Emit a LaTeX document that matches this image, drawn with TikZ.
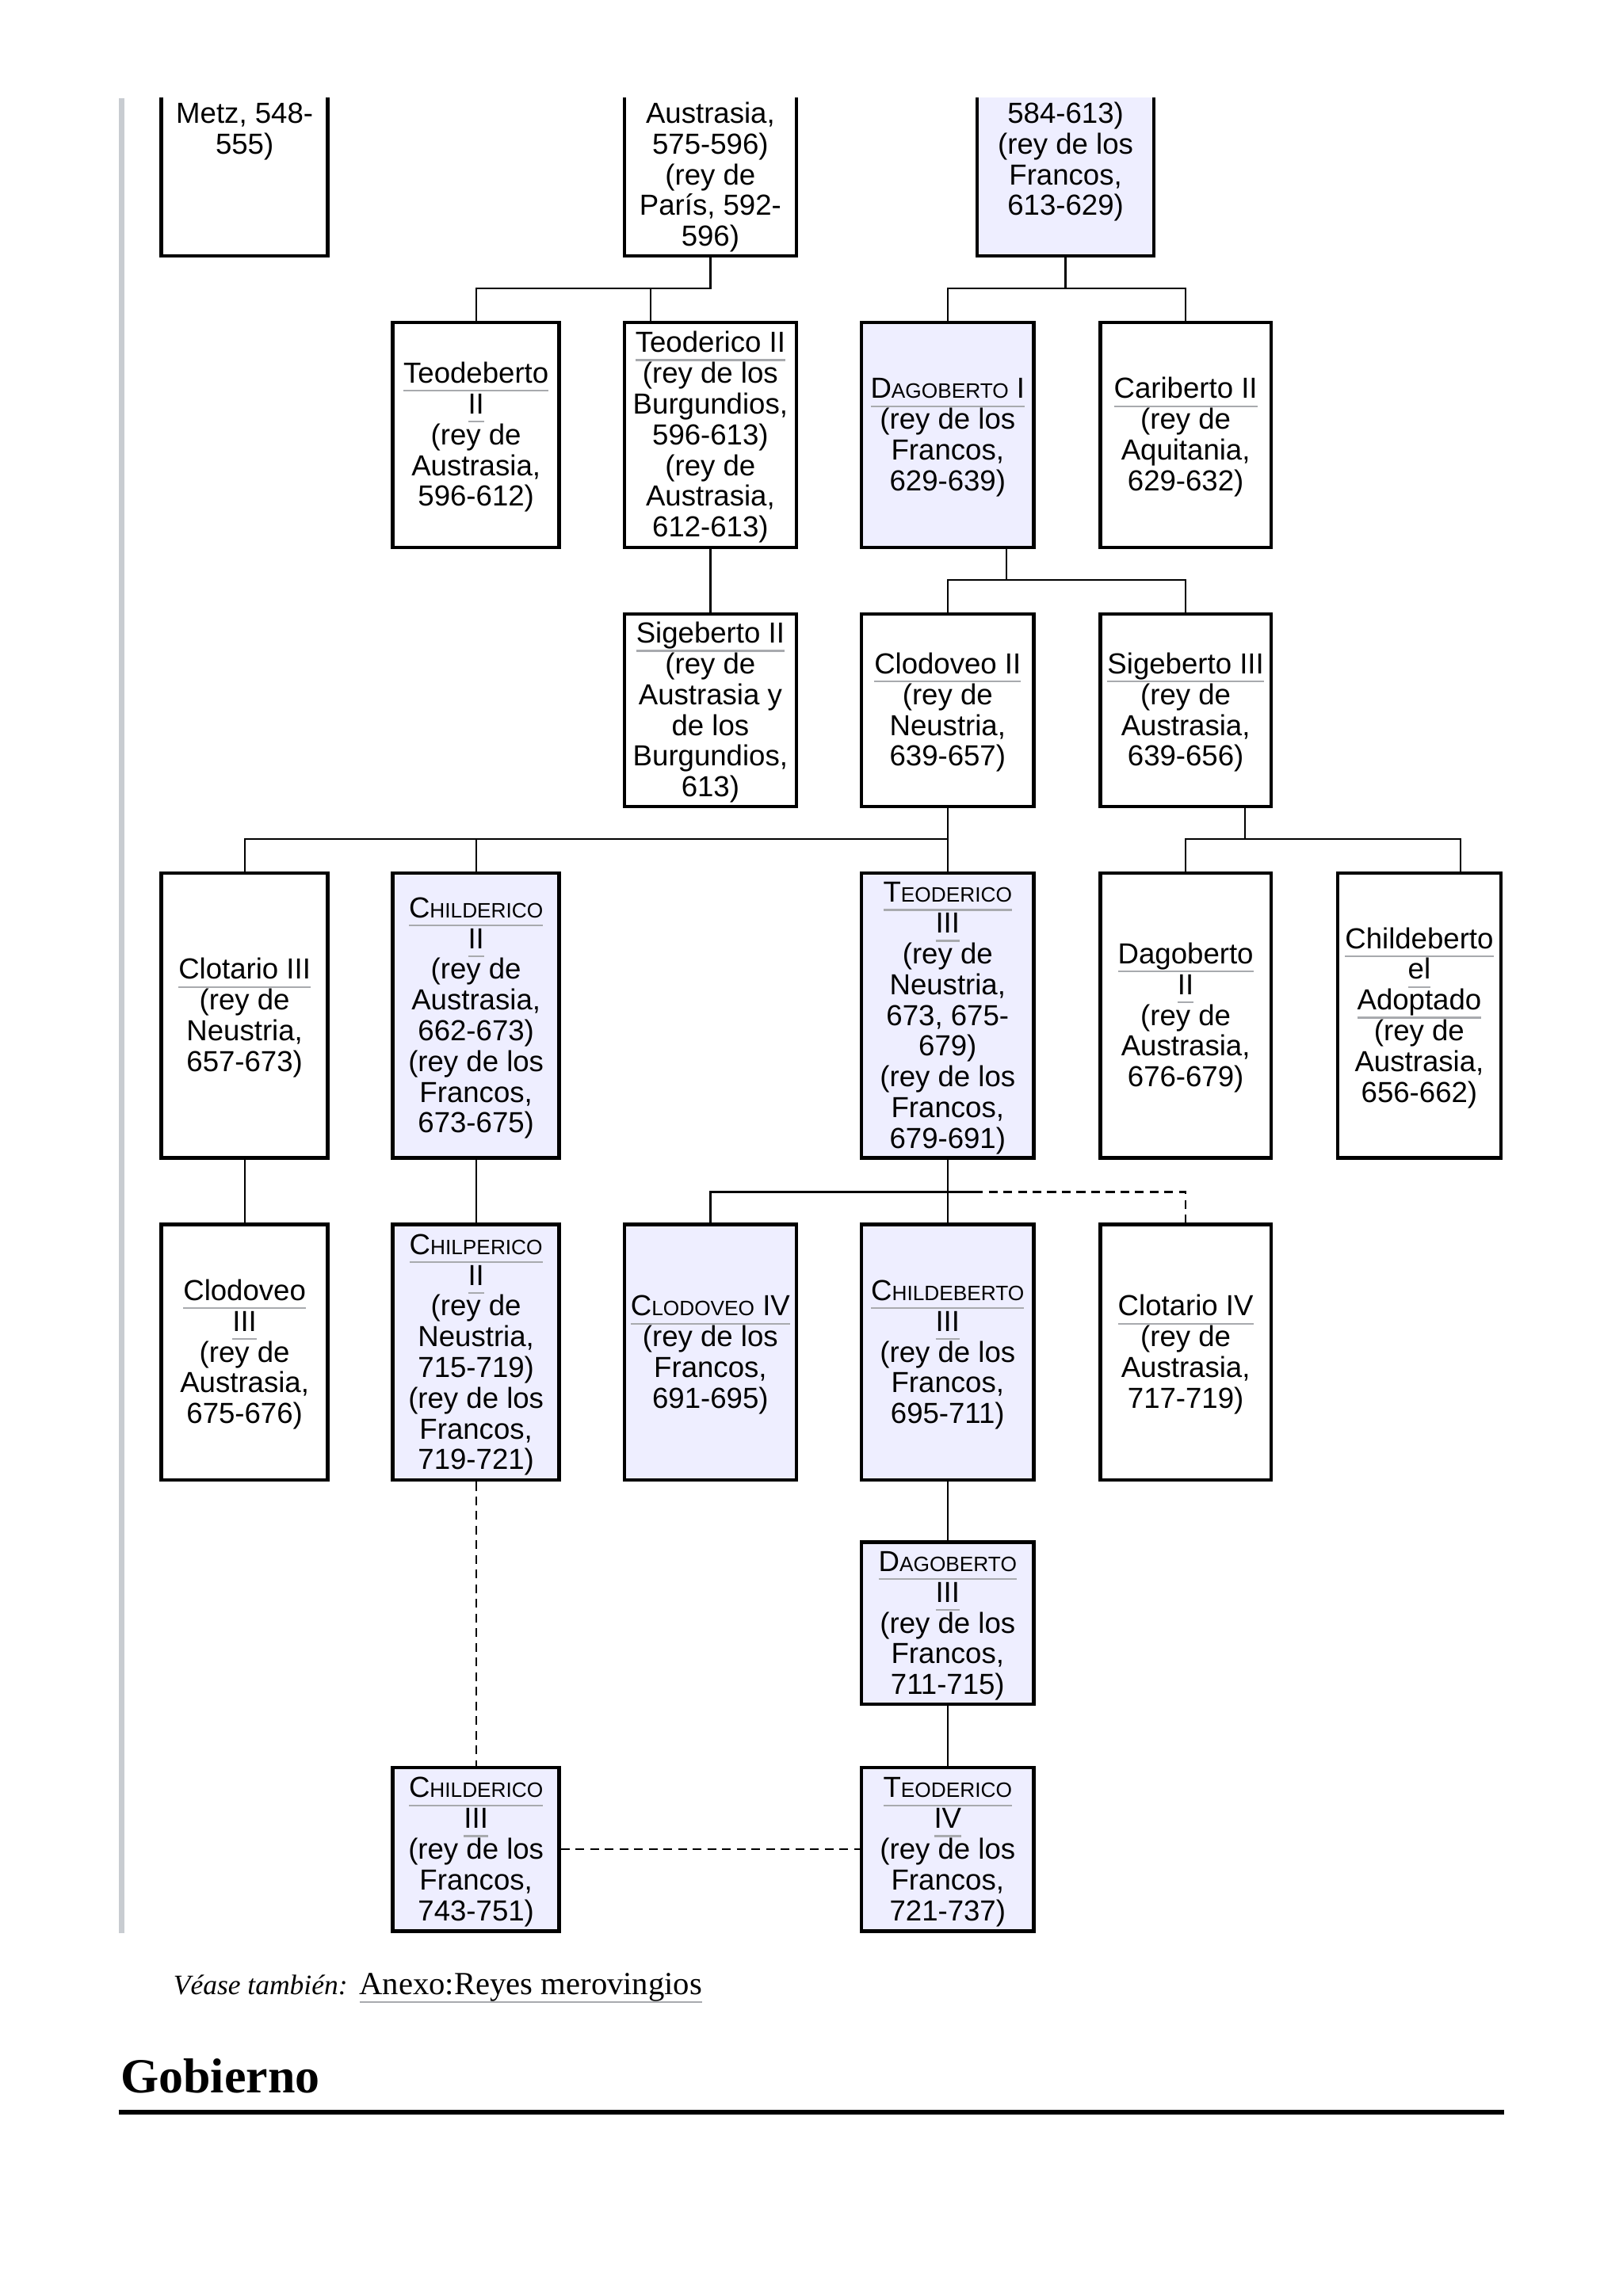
\documentclass[tikz,border=0pt]{standalone}
\usepackage{fontspec}
\setmainfont{Liberation Serif}
\newfontfamily\reyfont{Liberation Sans}
\usetikzlibrary{calc}
\definecolor{reyfill}{RGB}{238,238,255}
\definecolor{ulgray}{RGB}{168,170,174}
\definecolor{barragris}{RGB}{200,204,209}
% link underline, as the page draws it
\newcommand{\lnk}[1]{\setbox0\hbox{#1}\rlap{\smash{\color{ulgray}\rule[-2.95pt]{\wd0}{0.6pt}}}\box0}
% faked small capitals
\newcommand{\ssc}[1]{{\fontsize{7.1pt}{10.5pt}\selectfont #1}}
% box from its outer edges: style, name, left, top, right, bottom, text
\newcommand{\caja}[7]{%
  \pgfmathsetmacro{\cajax}{(#3+#5)/2}%
  \pgfmathsetmacro{\cajay}{(#4+#6)/2}%
  \pgfmathsetmacro{\cajaw}{(#5-#3-2.4)/2}%
  \pgfmathsetmacro{\cajah}{(#6-#4-2.4)/2}%
  \node[#1,minimum width=\cajaw pt,minimum height=\cajah pt] (#2) at (\cajax,\cajay) {\rule{0pt}{8.7pt}#7};
}

\begin{document}
\begin{tikzpicture}[x=0.5pt,y=-0.5pt,
  king/.style={draw=black,line width=1.2pt,fill=white,align=center,inner sep=0pt,
    font=\reyfont\fontsize{9.9pt}{10.5pt}\selectfont},
  franco/.style={king,fill=reyfill},
  rama/.style={line width=0.6pt},
  incierto/.style={rama,dash pattern=on 3pt off 2pt}]

  % Page frame, top-left origin
  \useasboundingbox (0,0) rectangle (1108,1568);

  % ---------------- quote bar ----------------
  \fill[barragris] (81,67) rectangle (85,1320);

  % ---------------- cut-off generation (top) ----------------
  \begin{scope}
    \clip (0,67) rectangle (1108,400);
    \caja{king}{metz}{109}{0}{225}{176}{Metz, 548-\\555)}
    \caja{king}{childebertoii}{425}{63}{545}{176}{Austrasia,\\575-596)\\(rey de\\París, 592-\\596)}
    \caja{franco}{clotarioii}{666}{42}{789}{176}{584-613)\\(rey de los\\Francos,\\613-629)}
  \end{scope}

  % ---------------- boxes ----------------
  \caja{king}{teodebertoii}{267}{219}{383}{375}{\lnk{Teodeberto}\\\lnk{II}\\(rey de\\Austrasia,\\596-612)}
  \caja{king}{teodericoii}{425}{219}{545}{375}{\lnk{Teoderico II}\\(rey de los\\Burgundios,\\596-613)\\(rey de\\Austrasia,\\612-613)}
  \caja{franco}{dagobertoi}{587}{219}{707}{375}{\lnk{D\ssc{AGOBERTO} I}\\(rey de los\\Francos,\\629-639)}
  \caja{king}{caribertoii}{750}{219}{869}{375}{\lnk{Cariberto II}\\(rey de\\Aquitania,\\629-632)}

  \caja{king}{sigebertoii}{425}{418}{545}{552}{\lnk{Sigeberto II}\\(rey de\\Austrasia y\\de los\\Burgundios,\\613)}
  \caja{king}{clodoveoii}{587}{418}{707}{552}{\lnk{Clodoveo II}\\(rey de\\Neustria,\\639-657)}
  \caja{king}{sigebertoiii}{750}{418}{869}{552}{\lnk{Sigeberto III}\\(rey de\\Austrasia,\\639-656)}

  \caja{king}{clotarioiii}{109}{595}{225}{792}{\lnk{Clotario III}\\(rey de\\Neustria,\\657-673)}
  \caja{franco}{childericoii}{267}{595}{383}{792}{\lnk{C\ssc{HILDERICO}}\\\lnk{II}\\(rey de\\Austrasia,\\662-673)\\(rey de los\\Francos,\\673-675)}
  \caja{franco}{teodericoiii}{587}{595}{707}{792}{\lnk{T\ssc{EODERICO}}\\\lnk{III}\\(rey de\\Neustria,\\673, 675-\\679)\\(rey de los\\Francos,\\679-691)}
  \caja{king}{dagobertoii}{750}{595}{869}{792}{\lnk{Dagoberto}\\\lnk{II}\\(rey de\\Austrasia,\\676-679)}
  \caja{king}{childebertoadoptado}{912}{595}{1026}{792}{\lnk{Childeberto}\\\lnk{el}\\\lnk{Adoptado}\\(rey de\\Austrasia,\\656-662)}

  \caja{king}{clodoveoiii}{109}{835}{225}{1012}{\lnk{Clodoveo}\\\lnk{III}\\(rey de\\Austrasia,\\675-676)}
  \caja{franco}{chilpericoii}{267}{835}{383}{1012}{\lnk{C\ssc{HILPERICO}}\\\lnk{II}\\(rey de\\Neustria,\\715-719)\\(rey de los\\Francos,\\719-721)}
  \caja{franco}{clodoveoiv}{425}{835}{545}{1012}{\lnk{C\ssc{LODOVEO} IV}\\(rey de los\\Francos,\\691-695)}
  \caja{franco}{childebertoiii}{587}{835}{707}{1012}{\lnk{C\ssc{HILDEBERTO}}\\\lnk{III}\\(rey de los\\Francos,\\695-711)}
  \caja{king}{clotarioiv}{750}{835}{869}{1012}{\lnk{Clotario IV}\\(rey de\\Austrasia,\\717-719)}

  \caja{franco}{dagobertoiii}{587}{1052}{707}{1165}{\lnk{D\ssc{AGOBERTO}}\\\lnk{III}\\(rey de los\\Francos,\\711-715)}

  \caja{franco}{childericoiii}{267}{1206}{383}{1320}{\lnk{C\ssc{HILDERICO}}\\\lnk{III}\\(rey de los\\Francos,\\743-751)}
  \caja{franco}{teodericoiv}{587}{1206}{707}{1320}{\lnk{T\ssc{EODERICO}}\\\lnk{IV}\\(rey de los\\Francos,\\721-737)}

  % ---------------- descent lines ----------------
  \coordinate (b0) at (0,197);
  \coordinate (b1) at (0,396);
  \coordinate (b2) at (0,573);
  \coordinate (b3) at (665,814);
  \coordinate (tii) at ([xshift=-20.5pt]teodericoii.north);
  \coordinate (di) at ([xshift=20pt]dagobertoi.south);
  \coordinate (siii) at ([xshift=20.25pt]sigebertoiii.south);
  \coordinate (cea) at ([xshift=14pt]childebertoadoptado.north);

  \draw[rama] (childebertoii.south) -- (childebertoii.south |- b0) -| (teodebertoii.north);
  \draw[rama] (tii) -- (tii |- b0);
  \draw[rama] (clotarioii.south) -- (clotarioii.south |- b0);
  \draw[rama] (dagobertoi.north) |- (caribertoii.north |- b0) -- (caribertoii.north);
  \draw[rama] (teodericoii.south) -- (sigebertoii.north);

  \draw[rama] (di) -- (di |- b1);
  \draw[rama] (clodoveoii.north) |- (sigebertoiii.north |- b1) -- (sigebertoiii.north);

  \draw[rama] (clodoveoii.south) -- (teodericoiii.north);
  \draw[rama] (clotarioiii.north) |- (clodoveoii.south |- b2);
  \draw[rama] (childericoii.north) -- (childericoii.north |- b2);
  \draw[rama] (siii) -- (siii |- b2);
  \draw[rama] (dagobertoii.north) |- (cea |- b2) -- (cea);

  \draw[rama] (clotarioiii.south) -- (clodoveoiii.north);
  \draw[rama] (childericoii.south) -- (chilpericoii.north);
  \draw[rama] (teodericoiii.south) -- (childebertoiii.north);
  \draw[rama] (clodoveoiv.north) |- (b3);
  \draw[incierto] (b3) -| (clotarioiv.north);
  \draw[rama] (childebertoiii.south) -- (dagobertoiii.north);
  \draw[rama] (dagobertoiii.south) -- (teodericoiv.north);
  \draw[incierto] (chilpericoii.south) -- (childericoiii.north);
  \draw[incierto] (childericoiii.east) -- (teodericoiv.west);

  % ---------------- page text below ----------------
  \node[anchor=base west,inner sep=0pt,font=\fontsize{9.6pt}{11pt}\selectfont\itshape] (vease) at (118,1362) {Véase también:};
  \node[anchor=base west,inner sep=0pt,font=\fontsize{11pt}{13pt}\selectfont] (anexo) at (245,1362) {\lnk{Anexo:Reyes merovingios}};
  \node[anchor=base west,inner sep=0pt,font=\fontsize{16.75pt}{20pt}\selectfont\bfseries] (gobierno) at (82,1429) {Gobierno};
  \draw[line width=1.5pt] (81,1442.5) -- (1027,1442.5);

\end{tikzpicture}
\end{document}
